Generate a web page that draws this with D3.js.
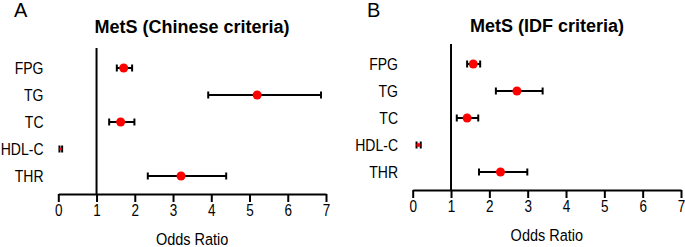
<!DOCTYPE html>
<html>
<head>
<meta charset="utf-8">
<script src="https://cdn.jsdelivr.net/npm/d3@7"></script>
<style>
  body { margin: 0; background: #fff; }
  svg { font-family: "Liberation Sans", Arial, sans-serif; }
</style>
</head>
<body>
<svg id="chart" width="685" height="247"></svg>
<script>
// Variables (rows, top to bottom)
const variables = ["FPG", "TG", "TC", "HDL-C", "THR"];

// Panel A: MetS (Chinese criteria)
const orA  = [1.71, 5.20, 1.63, 0.06, 3.21];
const lowA = [1.53, 3.92, 1.33, 0.03, 2.34];
const upA  = [1.93, 6.87, 1.99, 0.10, 4.39];

// Panel B: MetS (IDF criteria)
const orB  = [1.58, 2.72, 1.42, 0.15, 2.29];
const lowB = [1.42, 2.17, 1.15, 0.10, 1.73];
const upB  = [1.76, 3.39, 1.71, 0.21, 2.99];

const xTicks = [0, 1, 2, 3, 4, 5, 6, 7];
const refLine = 1;

const svg = d3.select("#chart");
const stretch = 1.18; // the original's small text is a bit taller than it is wide

// put a text at (x, y) and stretch it vertically
function tallText(sel, x, y) {
    sel.attr("x", 0).attr("y", 0)
        .attr("transform", (d, i) => {
            const xx = typeof x === "function" ? x(d, i) : x;
            const yy = typeof y === "function" ? y(d, i) : y;
            return `translate(${xx},${yy}) scale(1,${stretch})`;
        });
}

function forestPanel(cfg) {
    const x = d3.scaleLinear().domain([0, 7]).range([cfg.x0, cfg.x1]);
    const y = d3.scalePoint().domain(variables).range([cfg.yTop, cfg.yBot]);

    const g = svg.append("g");

    // panel letter
    g.append("text")
        .attr("x", cfg.letterX).attr("y", 16.5)
        .attr("font-size", 20)
        .text(cfg.letter);

    // title
    g.append("text")
        .attr("x", cfg.titleX).attr("y", cfg.titleY)
        .attr("text-anchor", "middle")
        .attr("font-size", 18).attr("font-weight", "bold")
        .text(cfg.title);

    // x axis
    const xAxis = d3.axisBottom(x).tickValues(xTicks).tickFormat(d3.format("d"))
        .tickSize(8).tickSizeOuter(0);
    const ax = g.append("g")
        .attr("transform", `translate(0,${cfg.axisY})`)
        .call(xAxis);
    ax.select(".domain").attr("stroke", "#000").attr("stroke-width", 2);
    ax.selectAll(".tick line").attr("stroke", "#000").attr("stroke-width", 2);
    ax.selectAll(".tick text")
        .attr("font-size", 13.5).attr("fill", "#000")
        .attr("font-family", "Liberation Sans, Arial, sans-serif")
        .attr("dy", null)
        .call(tallText, 0, 22);

    // x label
    g.append("text")
        .attr("text-anchor", "middle")
        .attr("font-size", 14.5)
        .text("Odds Ratio")
        .call(tallText, x(3.5), cfg.axisY + 51);

    // reference line at OR = 1
    g.append("line")
        .attr("x1", x(refLine)).attr("x2", x(refLine))
        .attr("y1", cfg.yTop - 20).attr("y2", cfg.axisY)
        .attr("stroke", "#000").attr("stroke-width", 2);

    // row labels
    g.selectAll(".rowlab")
        .data(variables)
        .join("text")
        .attr("class", "rowlab")
        .attr("text-anchor", "end")
        .attr("font-size", 14)
        .text(d => d)
        .call(tallText, cfg.labelX, d => y(d) + 6);

    const rows = variables.map((v, i) => ({v, or: cfg.or[i], lo: cfg.lo[i], hi: cfg.hi[i]}));

    const bars = g.selectAll(".ci").data(rows).join("g").attr("class", "ci");
    bars.append("line")
        .attr("x1", d => x(d.lo)).attr("x2", d => x(d.hi))
        .attr("y1", d => y(d.v)).attr("y2", d => y(d.v))
        .attr("stroke", "#000").attr("stroke-width", 2);
    bars.selectAll(".cap")
        .data(d => [{x: d.lo, v: d.v}, {x: d.hi, v: d.v}])
        .join("line")
        .attr("x1", d => x(d.x)).attr("x2", d => x(d.x))
        .attr("y1", d => y(d.v) - 3.5).attr("y2", d => y(d.v) + 3.5)
        .attr("stroke", "#000").attr("stroke-width", 2);
    bars.append("circle")
        .attr("cx", d => x(d.or)).attr("cy", d => y(d.v))
        .attr("r", d => Math.min(4.5, (x(d.hi) - x(d.lo)) / 2))
        .attr("fill", "#ff0000");
}

forestPanel({
    letter: "A", letterX: 14, title: "MetS (Chinese criteria)", titleX: 192, titleY: 33,
    x0: 58.3, x1: 326, axisY: 194, yTop: 68, yBot: 176, labelX: 43.5,
    or: orA, lo: lowA, hi: upA
});

forestPanel({
    letter: "B", letterX: 367, title: "MetS (IDF criteria)", titleX: 547, titleY: 32,
    x0: 412.7, x1: 681, axisY: 190, yTop: 64, yBot: 172, labelX: 398,
    or: orB, lo: lowB, hi: upB
});
</script>
</body>
</html>
